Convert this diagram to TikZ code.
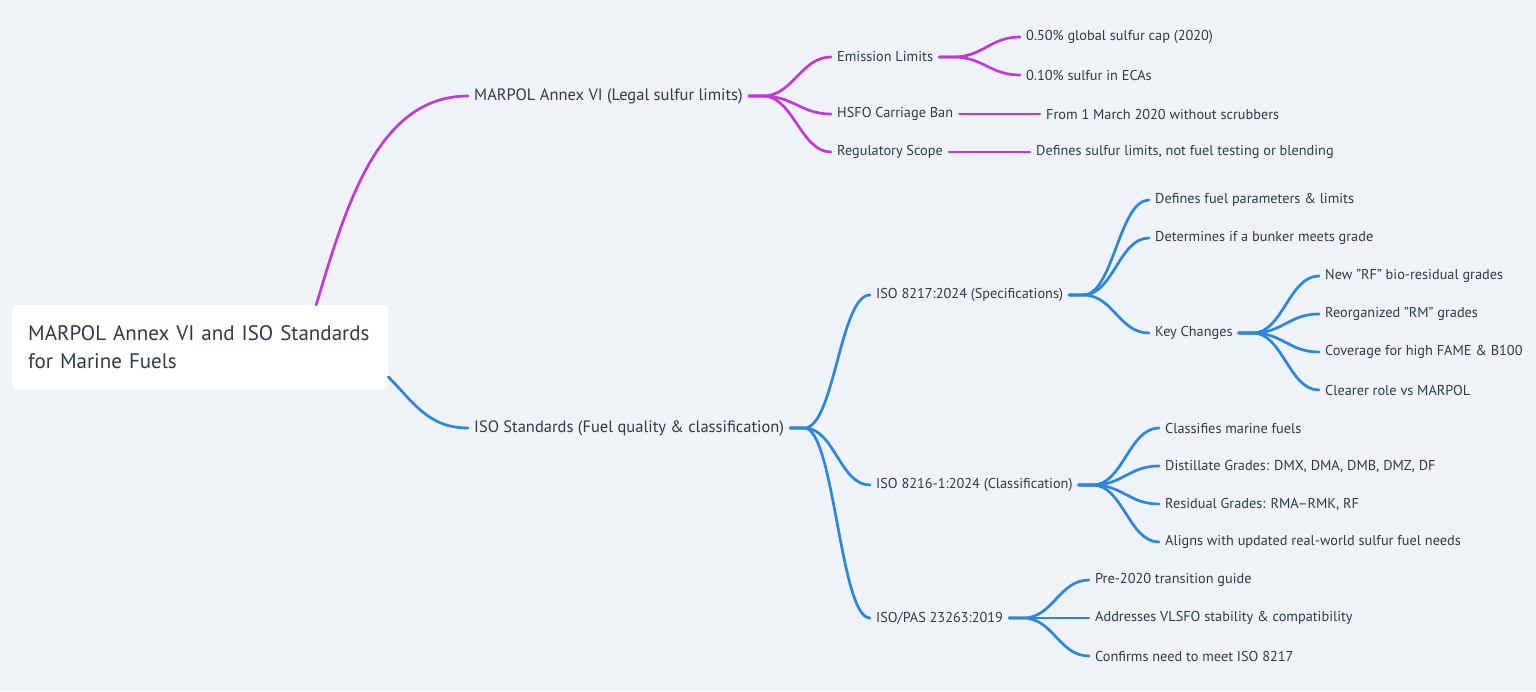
\documentclass[tikz,border=0pt]{standalone}
\usepackage{fontspec}
\setmainfont{PT Sans}
\usetikzlibrary{positioning}
\definecolor{bgcol}{HTML}{EFF3F7}
\definecolor{ink}{HTML}{2E3A4B}
\definecolor{marpol}{HTML}{C13AD4}
\definecolor{isoblue}{HTML}{2C86DB}

\begin{document}
\begin{tikzpicture}[
  x=1pt, y=-1pt,
  every node/.style={text=ink},
  rootbox/.style={fill=white, rounded corners=5pt, anchor=north west,
                  minimum width=376pt, minimum height=84pt, text width=344pt,
                  align=left, inner xsep=16pt, font=\fontsize{21}{28}\selectfont},
  topic/.style={anchor=west, inner xsep=6pt, font=\fontsize{16.5}{19}\selectfont},
  leaf/.style={anchor=west, inner xsep=6pt, font=\fontsize{14.3}{17}\selectfont},
  link/.style={line width=2.7pt, line cap=round},
  mline/.style={link, draw=marpol},
  iline/.style={link, draw=isoblue},
]
\fill[bgcol] (0,0) rectangle (1536,691);
\useasboundingbox (0,0) rectangle (1536,691);

% ---- root and main topics ---------------------------------------
\node[rootbox] (root) at (12,305) {MARPOL Annex VI and ISO Standards\\for Marine Fuels};
\node[topic] (mar) at (468,96)  {MARPOL Annex VI (Legal sulfur limits)};
\node[topic] (iso) at (468,428) {ISO Standards (Fuel quality \& classification)};

% ---- MARPOL branch ----------------------------------------------
\node[leaf] (emi)  at (831,57)   {Emission Limits};
\node[leaf] (hsfo) at (831,114)  {HSFO Carriage Ban};
\node[leaf] (reg)  at (831,152)  {Regulatory Scope};
\node[leaf] (e1)   at (1020,37)  {0.50\% global sulfur cap (2020)};
\node[leaf] (e2)   at (1020,75)  {0.10\% sulfur in ECAs};
\node[leaf] (h1)   at (1040,114) {From 1 March 2020 without scrubbers};
\node[leaf] (r1)   at (1030,152) {Defines sulfur limits, not fuel testing or blending};

% ---- ISO branch -------------------------------------------------
\node[leaf] (spec) at (870,295) {ISO 8217:2024 (Specifications)};
\node[leaf] (clas) at (870,485) {ISO 8216-1:2024 (Classification)};
\node[leaf] (pas)  at (870,618) {ISO/PAS 23263:2019};
\node[leaf] (d1)  at (1149,200) {Defines fuel parameters \& limits};
\node[leaf] (d2)  at (1149,238) {Determines if a bunker meets grade};
\node[leaf] (key) at (1149,333) {Key Changes};
\node[leaf] (k1)  at (1319,276) {New "RF" bio-residual grades};
\node[leaf] (k2)  at (1319,314) {Reorganized "RM" grades};
\node[leaf] (k3)  at (1319,352) {Coverage for high FAME \& B100};
\node[leaf] (k4)  at (1319,390) {Clearer role vs MARPOL};
\node[leaf] (c1)  at (1159,428) {Classifies marine fuels};
\node[leaf] (c2)  at (1159,466) {Distillate Grades: DMX, DMA, DMB, DMZ, DF};
\node[leaf] (c3)  at (1159,504) {Residual Grades: RMA–RMK, RF};
\node[leaf] (c4)  at (1159,542) {Aligns with updated real-world sulfur fuel needs};
\node[leaf] (p1)  at (1089,580) {Pre-2020 transition guide};
\node[leaf] (p2)  at (1089,618) {Addresses VLSFO stability \& compatibility};
\node[leaf] (p3)  at (1089,656) {Confirms need to meet ISO 8217};

% ---- links from root --------------------------------------------
\draw[mline] (root.20) .. controls +(30,-100) and +(-90,0) .. (mar.west);
\draw[iline] (root.-9) .. controls +(25,25) and +(-40,0) .. (iso.west);

% ---- MARPOL links -----------------------------------------------
\draw[mline] (mar.east) -- ++(14,0) .. controls +(30,0) and +(-30,0) .. (emi.west);
\draw[mline] (mar.east) -- ++(14,0) .. controls +(30,0) and +(-30,0) .. (hsfo.west);
\draw[mline] (mar.east) -- ++(14,0) .. controls +(30,0) and +(-30,0) .. (reg.west);
\draw[mline] (emi.east) -- ++(14,0) .. controls +(30,0) and +(-30,0) .. (e1.west);
\draw[mline] (emi.east) -- ++(14,0) .. controls +(30,0) and +(-30,0) .. (e2.west);
\draw[mline] (hsfo.east) -- (h1.west);
\draw[mline] (reg.east) -- (r1.west);

% ---- ISO links --------------------------------------------------
\draw[iline] (iso.east) -- ++(14,0) .. controls +(30,0) and +(-30,0) .. (spec.west);
\draw[iline] (iso.east) -- ++(14,0) .. controls +(30,0) and +(-30,0) .. (clas.west);
\draw[iline] (iso.east) -- ++(14,0) .. controls +(30,0) and +(-30,0) .. (pas.west);
\draw[iline] (spec.east) -- ++(14,0) .. controls +(30,0) and +(-30,0) .. (d1.west);
\draw[iline] (spec.east) -- ++(14,0) .. controls +(30,0) and +(-30,0) .. (d2.west);
\draw[iline] (spec.east) -- ++(14,0) .. controls +(30,0) and +(-30,0) .. (key.west);
\draw[iline] (key.east) -- ++(14,0) .. controls +(30,0) and +(-30,0) .. (k1.west);
\draw[iline] (key.east) -- ++(14,0) .. controls +(30,0) and +(-30,0) .. (k2.west);
\draw[iline] (key.east) -- ++(14,0) .. controls +(30,0) and +(-30,0) .. (k3.west);
\draw[iline] (key.east) -- ++(14,0) .. controls +(30,0) and +(-30,0) .. (k4.west);
\draw[iline] (clas.east) -- ++(14,0) .. controls +(30,0) and +(-30,0) .. (c1.west);
\draw[iline] (clas.east) -- ++(14,0) .. controls +(30,0) and +(-30,0) .. (c2.west);
\draw[iline] (clas.east) -- ++(14,0) .. controls +(30,0) and +(-30,0) .. (c3.west);
\draw[iline] (clas.east) -- ++(14,0) .. controls +(30,0) and +(-30,0) .. (c4.west);
\draw[iline] (pas.east) -- ++(14,0) .. controls +(30,0) and +(-30,0) .. (p1.west);
\draw[iline] (pas.east) -- ++(14,0) .. controls +(30,0) and +(-30,0) .. (p2.west);
\draw[iline] (pas.east) -- ++(14,0) .. controls +(30,0) and +(-30,0) .. (p3.west);

\end{tikzpicture}
\end{document}
